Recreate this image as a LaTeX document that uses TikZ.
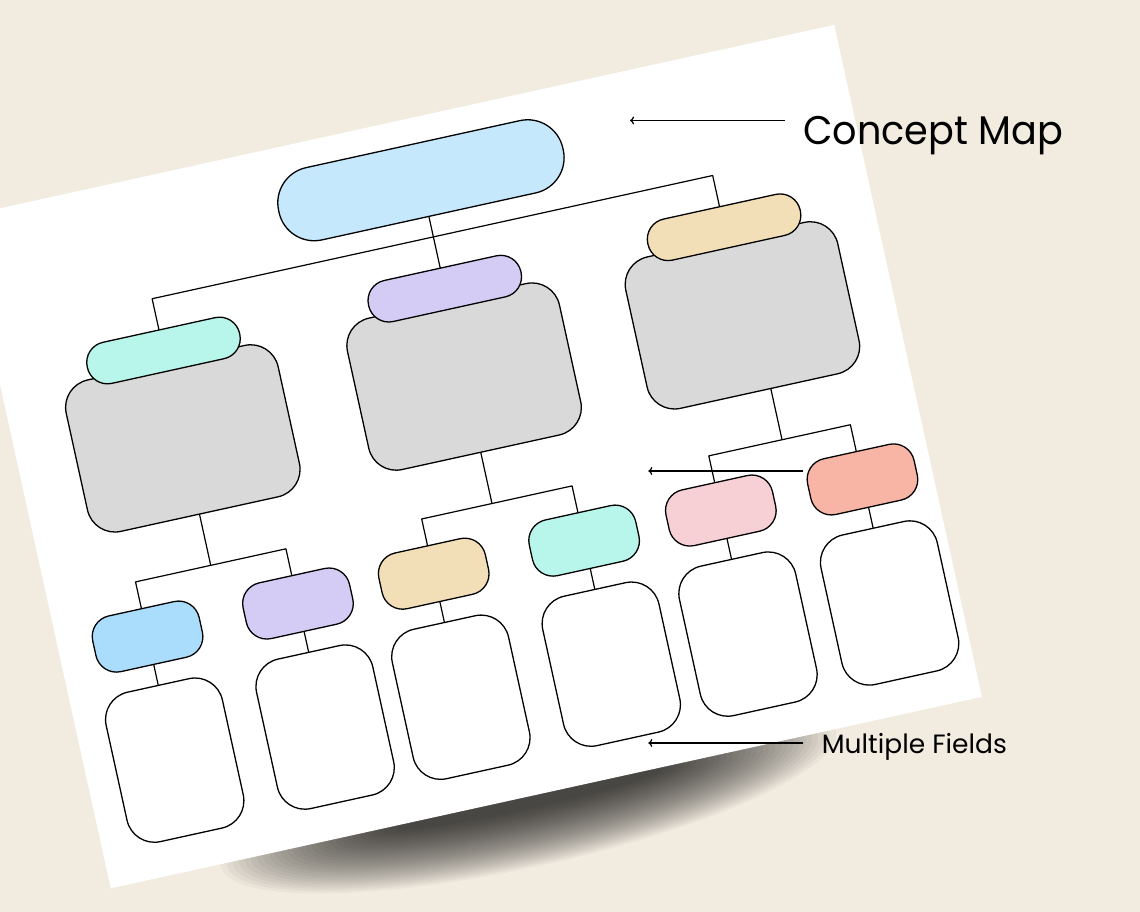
\documentclass[tikz,border=0pt]{standalone}
\usepackage{fontspec}
\setmainfont{Poppins}
\usetikzlibrary{arrows.meta,calc}
\definecolor{bg}{HTML}{F2ECE0}
\definecolor{topblue}{HTML}{C6E8FC}
\definecolor{cyanc}{HTML}{B8F5EA}
\definecolor{purplec}{HTML}{D5CCF5}
\definecolor{tanc}{HTML}{F3DFB7}
\definecolor{boxgray}{HTML}{D9D9D9}
\definecolor{bluec}{HTML}{AADCFB}
\definecolor{pinkc}{HTML}{F7D0D5}
\definecolor{salmonc}{HTML}{F8B5A6}
\tikzset{
  bx/.style={draw=black, line width=1.3pt, transform shape, inner sep=0pt, outer sep=0pt, rectangle},
  toppill/.style={bx, fill=topblue, minimum width=291pt, minimum height=74pt, rounded corners=36pt},
  midpill/.style={bx, fill=#1, minimum width=156pt, minimum height=42pt, rounded corners=20.5pt},
  graybox/.style={bx, fill=boxgray, minimum width=217pt, minimum height=155pt, rounded corners=28pt},
  smallpill/.style={bx, fill=#1, minimum width=109pt, minimum height=57pt, rounded corners=21pt},
  field/.style={bx, fill=white, minimum width=119pt, minimum height=153pt, rounded corners=28pt},
  link/.style={line width=1.2pt},
  callout/.style={line width=1.2pt, -{To[length=4pt,width=8pt]}},
}
\begin{document}
\begin{tikzpicture}[x=1pt,y=1pt,line join=round]
\useasboundingbox (35,216) rectangle (1175,-696);
\fill[bg] (35,216) rectangle (1175,-696);
\begin{scope}
\clip (35,216) rectangle (1175,-696);
\begin{scope}[rotate=12.4]
  % shadow
  \foreach \k in {0,...,29} {
    \fill[black, opacity=0.037] (425,-690) ellipse ({315-6.2*\k} and {68-2.0*\k});
  }
  % page
  \fill[white] (-2,0) rectangle (890,-688);
  % level 2
  \node[graybox] (gL) at (165,-264) {};
  \node[graybox] (gM) at (453,-264) {};
  \node[graybox] (gR) at (738,-264) {};
  \node[midpill=cyanc] (cL) at (165,-174) {};
  \node[midpill=purplec] (cM) at (453,-174) {};
  \node[midpill=tanc] (cR) at (739,-174) {};
  \node[toppill] (top) at (453,-63) {};
  % level 3
  \node[smallpill=bluec] (sA) at (88,-450) {};
  \node[smallpill=purplec] (sB) at (242,-450) {};
  \node[smallpill=tanc] (sC) at (381,-450) {};
  \node[smallpill=cyanc] (sD) at (535,-450) {};
  \node[smallpill=pinkc] (sE) at (675,-450) {};
  \node[smallpill=salmonc] (sF) at (820,-450) {};
  \node[field] (fA) at (88,-576.5) {};
  \node[field] (fB) at (242,-576.5) {};
  \node[field] (fC) at (381,-576.5) {};
  \node[field] (fD) at (535,-576.5) {};
  \node[field] (fE) at (675,-576.5) {};
  \node[field] (fF) at (820,-576.5) {};
  % bar coordinates
  \coordinate (tbL) at (165,-121);
  \coordinate (tbR) at (739,-121);
  \coordinate (bL) at (165,-394);
  \coordinate (bLa) at (88,-394);
  \coordinate (bLb) at (242,-394);
  \coordinate (bM) at (453,-394);
  \coordinate (bMa) at (381,-394);
  \coordinate (bMb) at (535,-394);
  \coordinate (gRs) at (750,-341.5);
  \coordinate (bR) at (750,-394);
  \coordinate (bRa) at (675,-394);
  \coordinate (bRb) at (820,-394);
  % connectors
  \draw[link] (top.south) -- (cM.north);
  \draw[link] (cL.north) -- (tbL) -- (tbR) -- (cR.north);
  \draw[link] (gL.south) -- (bL);
  \draw[link] (sA.north) -- (bLa) -- (bLb) -- (sB.north);
  \draw[link] (gM.south) -- (bM);
  \draw[link] (sC.north) -- (bMa) -- (bMb) -- (sD.north);
  \draw[link] (gRs) -- (bR);
  \draw[link] (sE.north) -- (bRa) -- (bRb) -- (sF.north);
  \foreach \n in {A,B,C,D,E,F} {
    \draw[link] (s\n.south) -- (f\n.north);
  }
\end{scope}
\end{scope}
% callouts
\node[anchor=base west, inner sep=0pt, font=\fontsize{40}{40}\selectfont] (cmap) at (838,71) {\scalebox{0.955}[1]{Concept Map}};
\node[anchor=base west, inner sep=0pt, font=\fontsize{26.5}{26.5}\selectfont] (mf) at (856.7,-537.3) {Multiple Fields};
\coordinate (a1s) at (820,95.5);
\coordinate (a1e) at (665,95.5);
\coordinate (a2s) at (838.3,-255);
\coordinate (a2e) at (683.3,-255);
\coordinate (a3s) at (838.3,-527);
\coordinate (a3e) at (683.3,-527);
\draw[callout] (a1s) -- (a1e);
\draw[callout] (a2s) -- (a2e);
\draw[callout] (a3s) -- (a3e);
\end{tikzpicture}
\end{document}
